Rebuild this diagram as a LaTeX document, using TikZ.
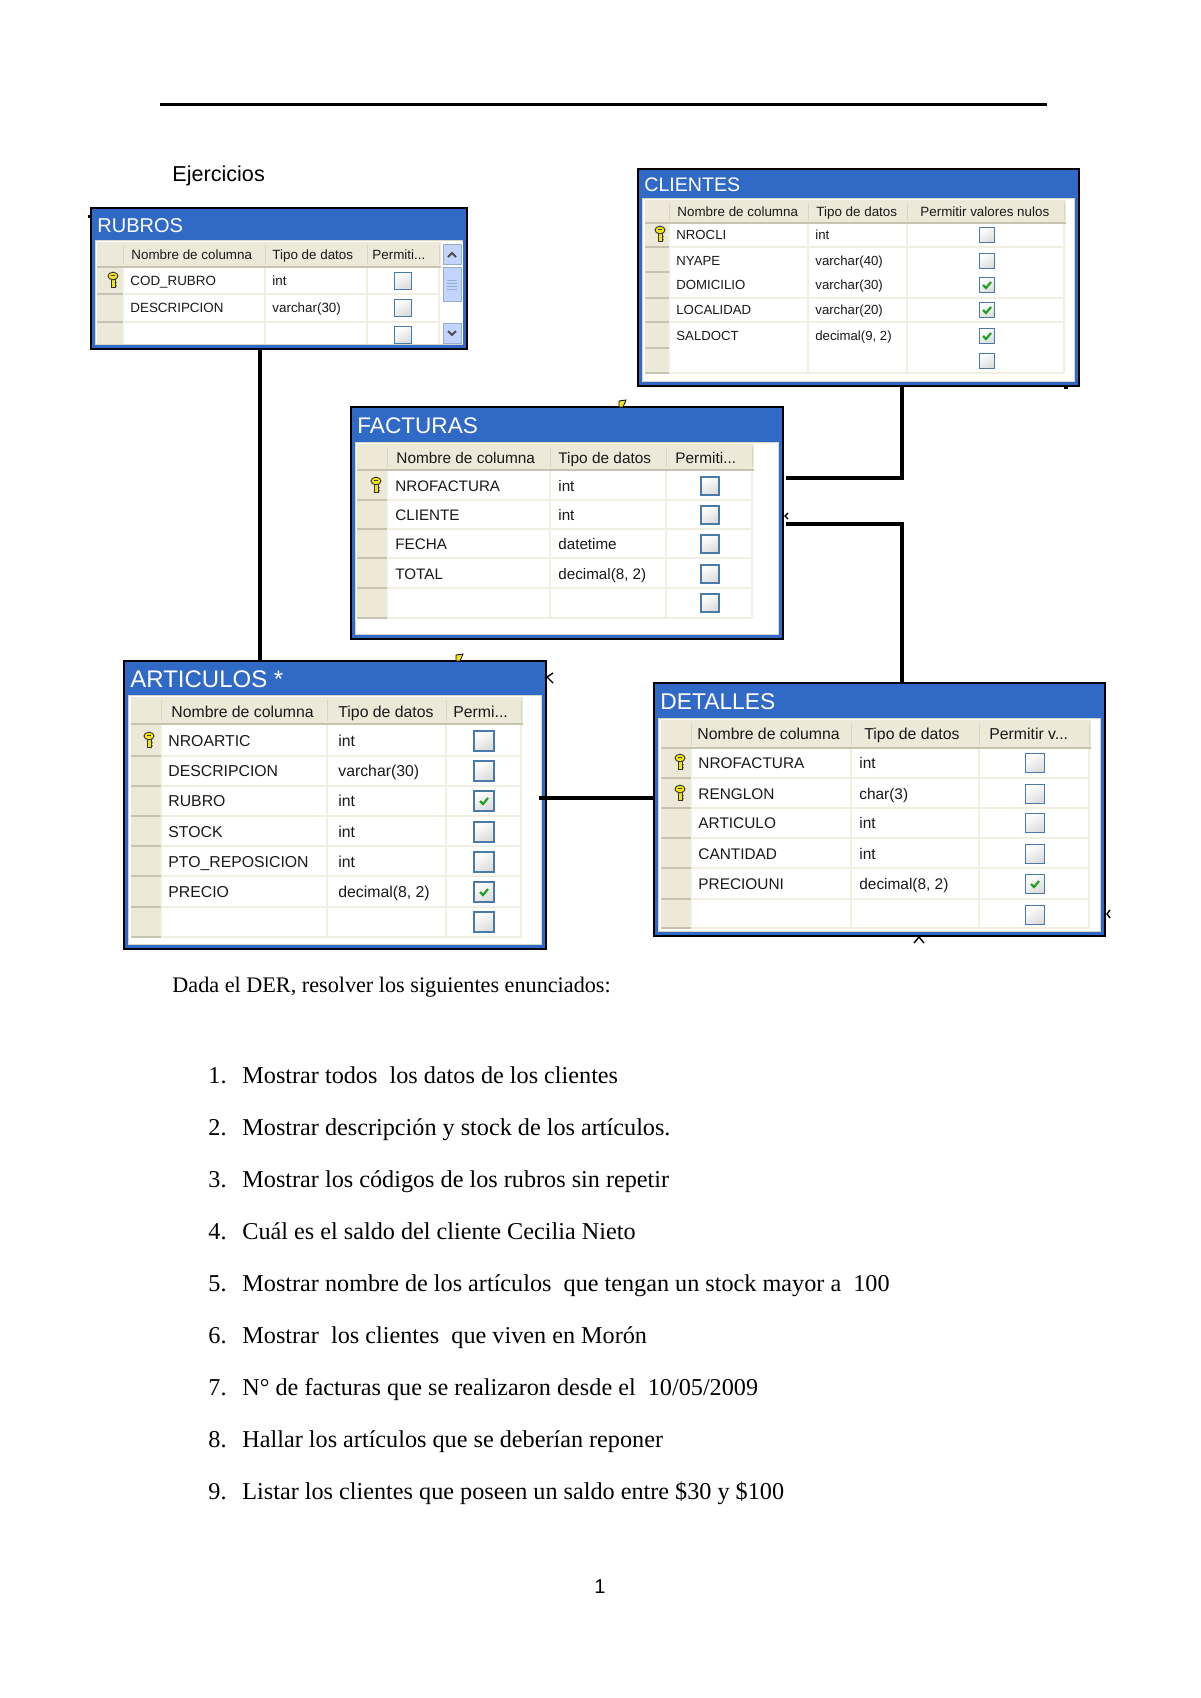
\documentclass[tikz,border=0pt]{standalone}
\usepackage{fontspec}
\setmainfont{Liberation Serif}
\setsansfont{Liberation Sans}
\usetikzlibrary{fit}

\definecolor{dbblue}{HTML}{3169C6}
\definecolor{dbpane}{HTML}{ECE9D8}
\definecolor{dbgrid}{HTML}{F1EFE2}
\definecolor{dbrule}{HTML}{C6C3B0}
\definecolor{dbedge}{HTML}{4A7BA8}
\definecolor{dbtick}{HTML}{21A121}
\definecolor{dbkey}{HTML}{F2E21C}
\definecolor{dbbar}{HTML}{C3D5FD}

\tikzset{
  dbframe/.style={draw=black, line width=0.75pt, fill=dbblue, inner sep=0pt},
  dbtitle/.style={font=\sffamily\fontsize{#1}{#1}\selectfont, text=white, anchor=west, inner sep=0pt, text height=0.72*#1 pt, text depth=0pt},
  dbcell/.style={font=\sffamily\fontsize{#1}{#1}\selectfont, text=black!90, anchor=west, inner sep=0pt, text height=0.72*#1 pt, text depth=0pt},
  dbbox/.style={draw=dbedge, line width=0.7pt, minimum size=#1 pt, inner sep=0pt, shade, top color=white, bottom color=black!14, shading angle=30},
  dbcheck/.style={draw=dbtick, line width=1.1pt},
  dblink/.style={draw=black, line width=1.7pt},
  dbstub/.style={draw=black, line width=0.7pt},
  dbwedge/.style={fill=dbkey, draw=black, line width=0.4pt},
  dbtext/.style={font=\fontsize{#1}{#1}\selectfont, anchor=base west, inner sep=0pt},
  keyicon/.pic={
    \fill[dbkey, draw=black!80, line width=0.35pt] (-2,-2) rectangle (2,7.5);
    \fill[black!80] (2,2) rectangle (3.6,3.3) (2,5) rectangle (3.6,6.3);
    \fill[dbkey, draw=black!80, line width=0.45pt] (0,-4) ellipse [x radius=5, y radius=3.8];
    \fill[black!75] (-1.7,-5.4) rectangle (1.7,-4.2);
  }
}

% frame of one table: name, title, left, top, right, bottom, end of title band, title size
\newcommand{\dbtable}[8]{
  \node[dbframe, fit={(#3,#4) (#5,#6)}] (#1) {};
  \fill[white, draw=dbrule!70, line width=0.5pt] (#3+4.5,#7) rectangle (#5-4.5,#6-4.5);
  \node[dbtitle=#8] (#1-title) at (#3+6,{(#4+#7)/2+1}) {#2};
}

% header and grid: left, end of key column, three column ends, band end, header end, grid end, row lines
\newcommand{\dbgrid}[9]{
  \fill[dbpane] (#1,#6+2) rectangle (#5+2,#7);
  \fill[dbpane] (#1,#7) rectangle (#2,#8);
  \foreach \xx in {#2,#3,#4,#5}{
    \draw[dbgrid, line width=1pt] (\xx,#7) -- (\xx,#8);
    \draw[dbrule!70, line width=0.5pt] (\xx,#6+5) -- (\xx,#7-3);
  }
  \foreach \yy in {#9}
    \draw[dbgrid, line width=1pt] (#2,\yy) -- (#5,\yy);
  \draw[dbrule, line width=1.2pt] (#1,#7) -- (#5+2,#7);
}

% darker strokes at the foot of the key column
\newcommand{\dbfoot}[3]{
  \foreach \yy in {#3}
    \draw[dbrule, line width=1pt] (#1,\yy) -- (#2,\yy);
}

% column titles: name, y, size, then x and text of each
\newcommand{\dbhead}[9]{
  \node[dbcell=#3] (#1-ha) at (#4,#2) {#5};
  \node[dbcell=#3] (#1-hb) at (#6,#2) {#7};
  \node[dbcell=#3] (#1-hc) at (#8,#2) {#9};
}

% rows: name, x of name, x of type, x of box, box size, text size, x of key, list
\newcommand{\dbrows}[8]{
  \foreach \yy/\nm/\ty/\on/\hk in {#8}{
    \node[dbcell=#6] (#1-n\yy) at (#2,\yy) {\nm};
    \node[dbcell=#6] (#1-t\yy) at (#3,\yy) {\ty};
    \node[dbbox=#5] (#1-b\yy) at (#4,\yy) {};
    \ifnum\on=1
      \draw[dbcheck] (#1-b\yy.center) ++(-4,0) -- ++(3,3) -- ++(5,-6);
    \fi
    \ifnum\hk=1
      \pic at (#7,\yy-1) {keyicon};
    \fi
  }
}

\begin{document}
\begin{tikzpicture}[x=0.5pt,y=-0.5pt]
  \useasboundingbox (0,0) rectangle (1200,1698);

  % rule at the head of the page
  \coordinate (ruleA) at (160,104.5);
  \coordinate (ruleB) at (1047,104.5);
  \draw[line width=1.4pt] (ruleA) -- (ruleB);
  \node[font=\sffamily\fontsize{10.8}{10.8}\selectfont, anchor=base west, inner sep=0pt] (heading) at (172,181) {Ejercicios};

  % RUBROS
  \dbtable{rubros}{RUBROS}{91}{208}{467}{349}{240}{10}
  \dbgrid{97}{123}{265}{367}{439}{240}{267}{344}{294,322}
  \dbfoot{97}{123}{294,322}
  \dbhead{rubros}{255}{6.7}{131}{Nombre de columna}{272}{Tipo de datos}{372}{Permiti...}
  \dbrows{rubros}{130}{272}{403}{8.5}{6.7}{113}{
    281/COD\_RUBRO/int/0/1,
    308/DESCRIPCION/varchar(30)/0/0,
    335///0/0}
  % its scroll bar
  \fill[white] (441,242) rectangle (463,344);
  \fill[dbbar, draw=dbedge!60, line width=0.3pt] (443,244) rectangle (461,264);
  \fill[dbbar, draw=dbedge!60, line width=0.3pt] (443,267) rectangle (461,301);
  \fill[dbbar, draw=dbedge!60, line width=0.3pt] (443,323) rectangle (461,343);
  \draw[black!70, line width=0.9pt] (448,257) -- (452,253) -- (456,257);
  \draw[black!70, line width=0.9pt] (448,331) -- (452,335) -- (456,331);
  \foreach \yy in {280,283,286,289}
    \draw[dbedge!60, line width=0.3pt] (447,\yy) -- (457,\yy);

  % CLIENTES
  \dbtable{clientes}{CLIENTES}{638}{169}{1079}{386}{198}{9.8}
  \dbgrid{645}{669}{808}{907}{1064}{198}{223}{373}{247,298,322,373}
  \dbfoot{645}{669}{247,272,298,322,348,373}
  \dbhead{clientes}{212}{6.7}{677}{Nombre de columna}{816}{Tipo de datos}{920}{Permitir valores nulos}
  \dbrows{clientes}{676}{815}{987}{7.5}{6.6}{660}{
    235/NROCLI/int/0/1,
    261/NYAPE/varchar(40)/0/0,
    285/DOMICILIO/varchar(30)/1/0,
    310/LOCALIDAD/varchar(20)/1/0,
    336/SALDOCT/{decimal(9, 2)}/1/0,
    361///0/0}

  % FACTURAS
  \dbtable{facturas}{FACTURAS}{351}{407}{783}{639}{442}{11.3}
  \dbgrid{357}{387}{550}{666}{752}{442}{470}{618}{500,529,558,588,618}
  \dbfoot{357}{387}{500,529,558,588,618}
  \dbhead{facturas}{458}{7.7}{396}{Nombre de columna}{558}{Tipo de datos}{675}{Permiti...}
  \dbrows{facturas}{395}{558}{710}{9}{7.6}{376}{
    486/NROFACTURA/int/0/1,
    515/CLIENTE/int/0/0,
    544/FECHA/datetime/0/0,
    574/TOTAL/{decimal(8, 2)}/0/0,
    603///0/0}

  % ARTICULOS
  \dbtable{articulos}{ARTICULOS *}{124}{661}{546}{949}{695}{12}
  \dbgrid{131}{161}{327}{446}{521}{695}{724}{937}{756,786,816,846,876,907,937}
  \dbfoot{131}{161}{756,786,816,846,876,907,937}
  \dbhead{articulos}{712}{7.9}{171}{Nombre de columna}{338}{Tipo de datos}{453}{Permi...}
  \dbrows{articulos}{168}{338}{484}{10}{7.9}{149}{
    741/NROARTIC/int/0/1,
    771/DESCRIPCION/varchar(30)/0/0,
    801/RUBRO/int/1/0,
    832/STOCK/int/0/0,
    862/PTO\_REPOSICION/int/0/0,
    892/PRECIO/{decimal(8, 2)}/1/0,
    922///0/0}

  % DETALLES
  \dbtable{detalles}{DETALLES}{654}{683}{1105}{936}{718}{11.4}
  \dbgrid{661}{691}{851}{979}{1089}{718}{748}{928}{778,808,838,868,899,928}
  \dbfoot{661}{691}{778,808,838,868,899,928}
  \dbhead{detalles}{734}{7.9}{697}{Nombre de columna}{864}{Tipo de datos}{989}{Permitir v...}
  \dbrows{detalles}{698}{859}{1035}{9.5}{7.7}{680}{
    763/NROFACTURA/int/0/1,
    794/RENGLON/char(3)/0/1,
    823/ARTICULO/int/0/0,
    854/CANTIDAD/int/0/0,
    884/PRECIOUNI/{decimal(8, 2)}/1/0,
    915///0/0}

  % relations
  \coordinate (rubrosA) at (260,349);
  \coordinate (articulosA) at (260,661);
  \coordinate (clientesA) at (902,386);
  \coordinate (facturasA) at (786,478);
  \coordinate (facturasB) at (786,524);
  \coordinate (detallesA) at (902,683);
  \coordinate (articulosB) at (539,798);
  \coordinate (detallesB) at (654,798);
  \draw[dblink] (rubrosA) -- (articulosA);
  \draw[dblink] (clientesA) |- (facturasA);
  \draw[dblink] (facturasB) -| (detallesA);
  \draw[dblink] (articulosB) -- (detallesB);

  % ends of the relations that stick out of the frames
  \fill[dbwedge] (456,661) -- (456,655) -- (463,654) -- (460,661) -- cycle;
  \fill[dbwedge] (619,407) -- (619,401) -- (626,400) -- (623,407) -- cycle;
  \draw[dbstub] (553,673) -- (547,677) -- (553,683);
  \draw[dbstub] (788,513) -- (785,516) -- (788,519);
  \draw[dbstub] (1110,910) -- (1107,914) -- (1110,918);
  \draw[dbstub] (914,943) -- (919,937) -- (924,943);
  \fill[black] (88,215) rectangle (91,218);
  \fill[black] (1064,386) rectangle (1068,389);

  % text below the tables
  \node[dbtext=11.1] (intro) at (172,992) {Dada el DER, resolver los siguientes enunciados:};
  \foreach \txt [count=\i, evaluate=\i as \yy using {1083+52.1*(\i-1)}] in {
    {Mostrar todos\ \ los datos de los clientes},
    {Mostrar descripción y stock de los artículos.},
    {Mostrar los códigos de los rubros sin repetir},
    {Cuál es el saldo del cliente Cecilia Nieto},
    {Mostrar nombre de los artículos\ \ que tengan un stock mayor a\ \ 100},
    {Mostrar\ \ los clientes\ \ que viven en Morón},
    {N° de facturas que se realizaron desde el\ \ 10/05/2009},
    {Hallar los artículos que se deberían reponer},
    {Listar los clientes que poseen un saldo entre \$30 y \$100}}{
    \node[dbtext=12.1] (num\i) at (208,\yy) {\i.};
    \node[dbtext=12.1] (item\i) at (242,\yy) {\txt};
  }
  \node[font=\sffamily\fontsize{10}{10}\selectfont, anchor=base, inner sep=0pt] (page) at (600,1593) {1};
\end{tikzpicture}
\end{document}
